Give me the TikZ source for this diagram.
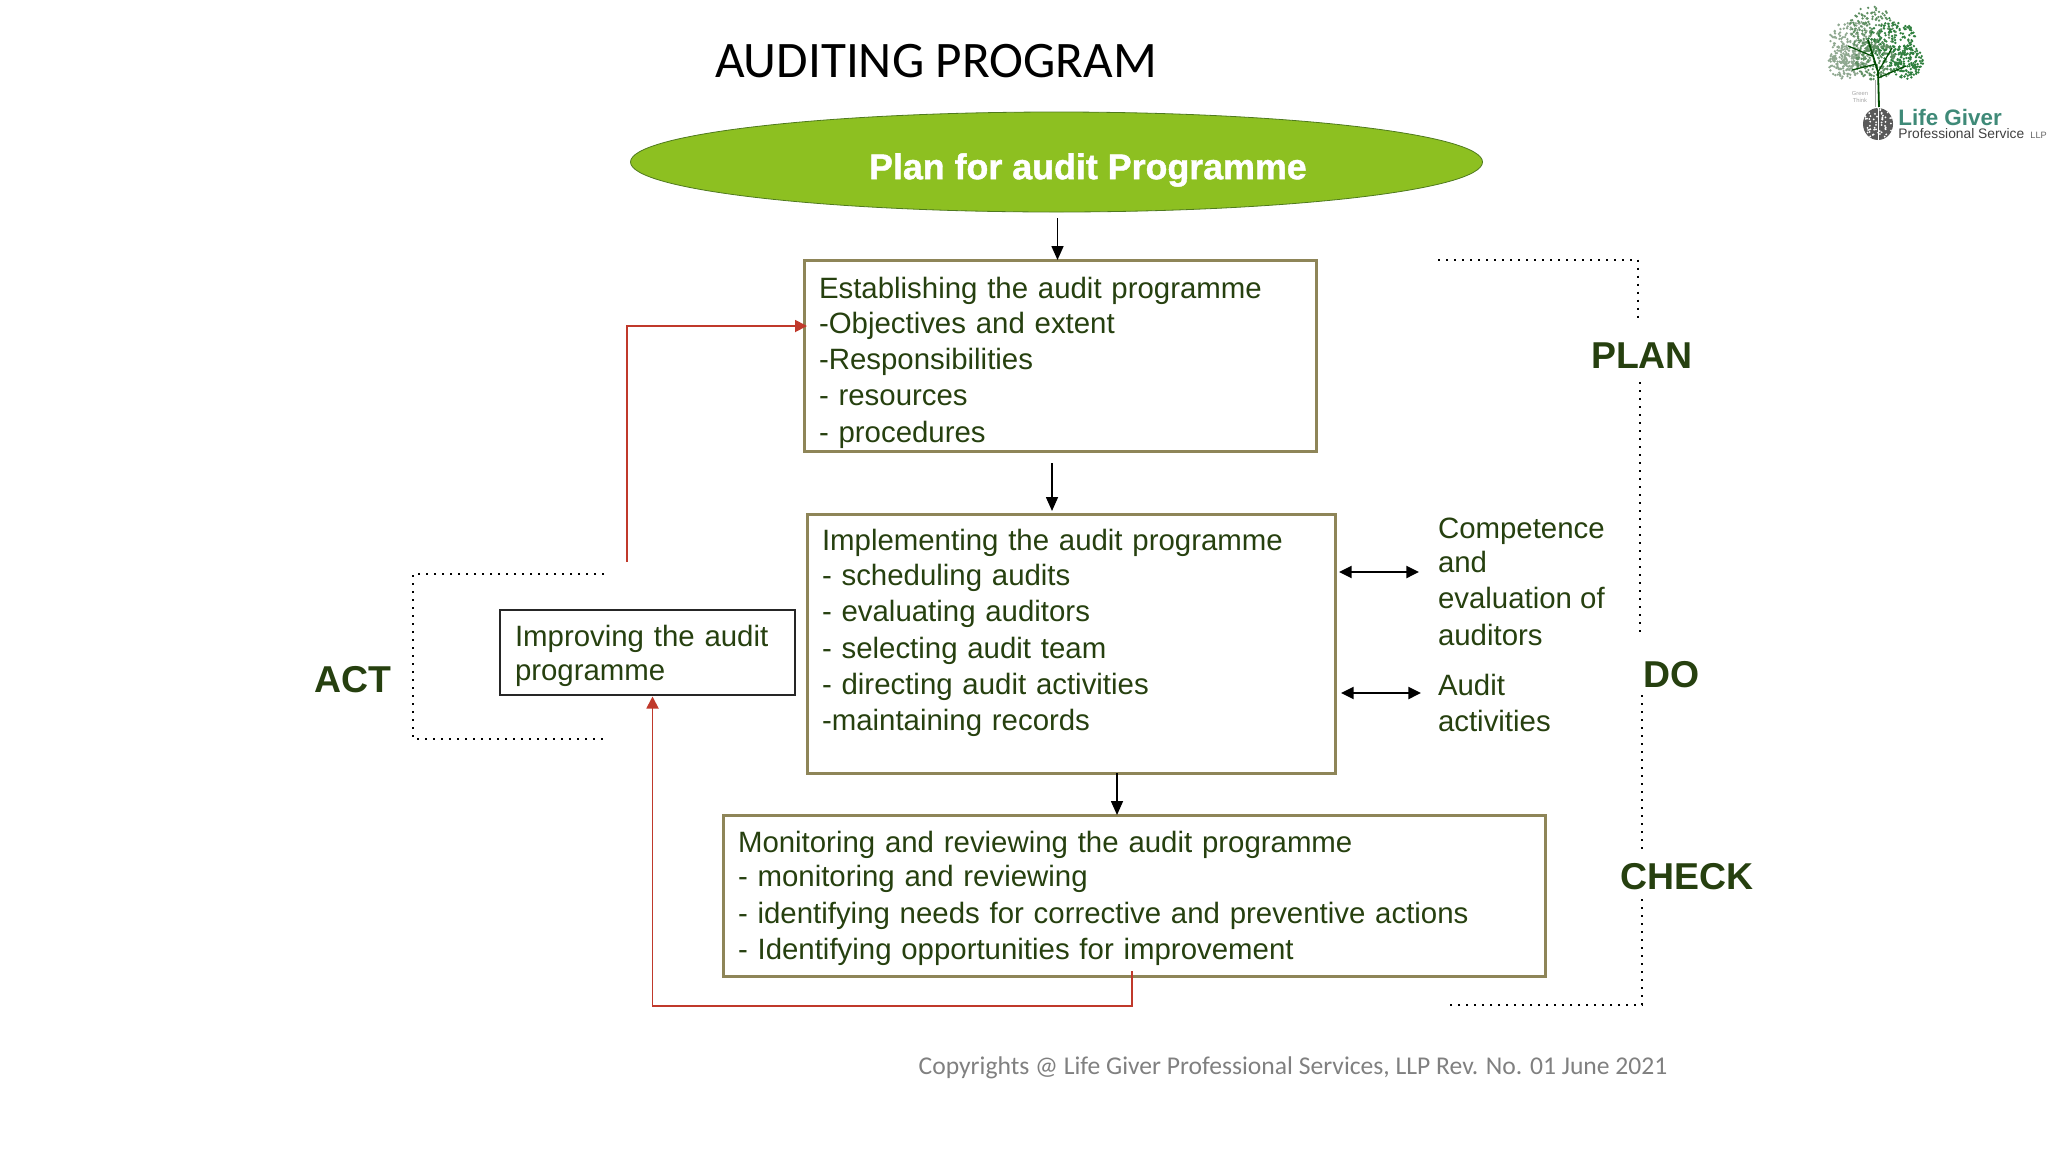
\documentclass[tikz,border=0pt]{standalone}
\usepackage{fontspec}
\setmainfont{Liberation Sans}
\newfontfamily\titlefont{Carlito}
\newfontfamily\planfont[FakeBold=1.2]{Liberation Sans Bold}
\usetikzlibrary{shapes.geometric, arrows.meta, positioning, calc}
\definecolor{boxline}{HTML}{8E8558}
\definecolor{boxtext}{HTML}{26400F}
\definecolor{planfill}{HTML}{8DC021}
\definecolor{planline}{HTML}{4F7A1E}
\definecolor{redline}{HTML}{C0392B}
\definecolor{logoteal}{HTML}{3F8A78}
\definecolor{treedark}{HTML}{2F7F3E}
\definecolor{treemid}{HTML}{5F8F62}
\definecolor{treepale}{HTML}{8FA890}

\begin{document}
\begin{tikzpicture}[
    x=0.5pt, y=-0.5pt,
    node distance=24pt,
    stagebox/.style={rectangle, draw=boxline, line width=1.5pt, inner sep=0pt, inner xsep=7.5pt, outer sep=0pt, align=left, text=boxtext, font=\fontsize{14.7}{18.2}\selectfont},
    sidetext/.style={inner sep=0pt, outer sep=0pt, align=left, text=boxtext, font=\fontsize{14.7}{18.2}\selectfont},
    phase/.style={inner sep=0pt, text=boxtext, font=\fontsize{18.7}{20}\selectfont\bfseries},
    arrow/.style={line width=0.8pt,->,>={Triangle[length=7pt,width=6pt]}},
    twoway/.style={line width=1pt,<->,>={Triangle[length=6.3pt,width=6pt]}},
    feedback/.style={redline,line width=0.9pt,->,>={Triangle[length=6pt,width=6pt]}},
    dots/.style={line width=1pt,dash pattern=on 1pt off 3pt}
]
\useasboundingbox (0,0) rectangle (2048,1152);

% Nodes
\node (title) at (936,61) {\titlefont\fontsize{25.6}{30}\selectfont AUDITING PROGRAM};
\node (plan) [ellipse, draw=planline, fill=planfill, minimum width=426pt, minimum height=50pt, inner sep=0pt, outer sep=0pt] at (1056.5,162) {};
\node (plantext) [text=white, inner sep=0pt, font=\planfont\fontsize{17.9}{20}\selectfont] at ([xshift=15.7pt,yshift=-4pt]plan.center) {Plan for audit Programme};
\node (establish) [stagebox, below=of plan, xshift=1.75pt, text width=241pt, minimum height=95.5pt] {\rule{0pt}{18pt}Establishing the audit programme\\[-1pt]
-Objectives and extent\\
-Responsibilities\\
- resources\\
- procedures};
\node (implement) [stagebox, below=31.5pt of establish, xshift=5.5pt, text width=249pt, minimum height=129.5pt] {Implementing the audit programme\\[-1pt]
- scheduling audits\\
- evaluating auditors\\
- selecting audit team\\
- directing audit activities\\
-maintaining records\\[-5pt]\mbox{}};
\node (monitor) [stagebox, below=21pt of implement, xshift=31.5pt, text width=396pt, minimum height=80.5pt] {\rule{0pt}{13.4pt}Monitoring and reviewing the audit programme\\[-1pt]
- monitoring and reviewing\\
- identifying needs for corrective and preventive actions\\
- Identifying opportunities for improvement};
\node (improve) [stagebox, draw=black!85, line width=1pt, left=6pt of implement, yshift=-4.25pt, text width=132.5pt, minimum height=42.5pt] {\rule{0pt}{14.7pt}Improving the audit\\[-1pt]
programme};
\node (competence) [sidetext, right=51.5pt of implement, yshift=31pt] {Competence\\[-1pt]
and\\
evaluation of\\
auditors};
\node (activities) [sidetext, right=51.5pt of implement, yshift=-29.7pt] {Audit\\
activities};
\node (planlabel) [phase] at (1642,356) {PLAN};
\node (dolabel) [phase] at (1672,675) {DO};
\node (checklabel) [phase] at (1687,877) {CHECK};
\node (actlabel) [phase] at (353,680) {ACT};
\node (copyright) [text=black!50, font=\titlefont\fontsize{12.8}{14}\selectfont] at (1293,1068) {Copyrights @ Life Giver Professional Services, LLP Rev. No. 01 June 2021};

% Free ends
\coordinate (redstart) at (627,562);
\coordinate (planstart) at (1438,259.5);
\coordinate (planend) at (1638,322);
\coordinate (doa) at (1640,382);
\coordinate (dob) at (1640,637);
\coordinate (checka) at (1642,695);
\coordinate (checkb) at (1642,852);
\coordinate (checkc) at (1642,899);
\coordinate (checkcorner) at (1642,1005);
\coordinate (checkend) at (1446,1005);
\coordinate (acttop) at (604,574);
\coordinate (actcorner) at (413,574);
\coordinate (actbottom) at (413,739);
\coordinate (actend) at (604,739);

% Connections
\draw [arrow] ([xshift=0.5pt,yshift=-3pt]plan.south) -- ([xshift=0.5pt]plan.south |- establish.north);
\draw [arrow] ([xshift=-4pt,yshift=-6pt]establish.south) -- ([xshift=-4pt,yshift=1.5pt]establish.south |- implement.north);
\draw [arrow] ([xshift=23pt]implement.south) -- ([xshift=23pt]implement.south |- monitor.north);
\draw [twoway] ([xshift=2pt]implement.east |- 0,572) -- (1419,572);
\draw [twoway] ([xshift=3pt]implement.east |- 0,693) -- (1421,693);
\draw [feedback] (redstart) |- ([xshift=1.5pt,yshift=14.75pt]establish.west);
\draw [feedback] ([xshift=-1pt,yshift=2.5pt]monitor.south) -- ++(0,35) -| ([xshift=2.5pt,yshift=-1pt]improve.south);
\draw [dots] (planstart) -| (planend);
\draw [dots] (doa) -- (dob);
\draw [dots] (checka) -- (checkb);
\draw [dots] (checkc) -- (checkcorner) -- (checkend);
\draw [dots] (acttop) -- (actcorner) -- (actbottom) -- (actend);

% Logo
\pgfmathsetseed{11}
\foreach \cx/\cy/\cr/\leaf in {1852/45/25/treepale, 1845/62/17/treepale, 1872/30/24/treemid, 1892/42/24/treedark, 1906/62/17/treedark, 1875/60/20/treemid} {
    \foreach \i in {1,...,150} {
        \pgfmathsetmacro{\ang}{360*rnd}
        \pgfmathsetmacro{\rad}{\cr*sqrt(rnd)}
        \fill [\leaf] (\cx,\cy) ++(\ang:\rad) circle (1.3);
    }
}
\draw [black!70!green, line width=0.9pt] (1879,107) -- (1878,72) -- (1868,40);
\draw [black!70!green, line width=0.6pt] (1878,72) -- (1892,48) (1878,78) -- (1906,66) (1872,56) -- (1848,46) (1876,64) -- (1852,70);
\draw [black!35, line width=0.5pt] (1875,107) -- (1875,80);
\fill [black!65] (1878,124) ellipse (15 and 16);
\begin{scope}
\clip (1878,124) ellipse (15 and 16);
\foreach \i in {1,...,70} {
    \pgfmathsetmacro{\px}{1863+30*rnd}
    \pgfmathsetmacro{\py}{108+32*rnd}
    \fill [white] (\px,\py) circle (1);
}
\end{scope}
\draw [white, line width=0.4pt] (1878,108) -- (1878,140);
\node (greenthink) [text=black!35, align=center, inner sep=0pt, font=\fontsize{2.9}{3.4}\selectfont] at (1860,97) {Green\\Think};
\node (lifegiver) [anchor=west, inner sep=0pt, text=logoteal, font=\fontsize{11.2}{12}\selectfont\bfseries] at (1898,117) {Life Giver};
\node (service) [anchor=west, inner sep=0pt, text=black!75, font=\fontsize{6.9}{8}\selectfont] at (1898,134) {Professional Service};
\node (llp) [anchor=west, inner sep=0pt, text=black!60, font=\fontsize{4.6}{5}\selectfont] at (2030,135) {LLP};

\end{tikzpicture}
\end{document}
